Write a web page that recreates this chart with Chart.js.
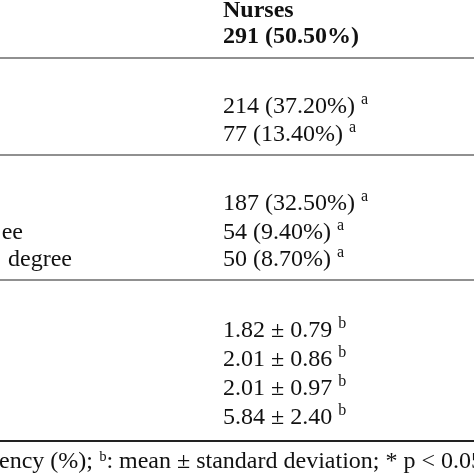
<!DOCTYPE html><html><head><meta charset="utf-8">
<script src="https://cdn.jsdelivr.net/npm/chart.js@4"></script>
<style>html,body{margin:0;padding:0;background:#fff}#w{width:474px;height:474px}</style></head>
<body><div id="w"><canvas id="c"></canvas></div>
<script>
const headerLines = ["Nurses", "291 (50.50%)"];
const headerY = [17, 43];
const values = ["214 (37.20%)", "77 (13.40%)", "187 (32.50%)", "54 (9.40%)", "50 (8.70%)",
  "1.82 \u00B1 0.79", "2.01 \u00B1 0.86", "2.01 \u00B1 0.97", "5.84 \u00B1 2.40"];
const superscripts = ["a","a","a","a","a","b","b","b","b"];
const valueY = [113, 141, 210, 239, 266, 337, 366, 395, 424];
const leftLabels = ["ee", " degree"];
const leftY = [239, 266];
const leftRightEdge = [23, 72];
const ruleY = [58, 155, 280, 441];
const footnote = "ency (%); \u1D47: mean \u00B1 standard deviation; * p < 0.05 is";
const FONT = '"Liberation Serif", serif';

const tablePlugin = {
  id: 'table',
  afterDraw(chart) {
    const {ctx, scales: {x, y}} = chart;
    const px = v => x.getPixelForValue(v), py = v => y.getPixelForValue(v);
    ctx.save();
    ctx.fillStyle = '#111'; ctx.textBaseline = 'alphabetic';
    ctx.font = 'bold 24px ' + FONT; ctx.textAlign = 'left';
    headerLines.forEach((t, i) => ctx.fillText(t, px(223), py(headerY[i])));
    values.forEach((t, i) => {
      ctx.font = '24px ' + FONT; ctx.textAlign = 'left';
      ctx.fillText(t, px(223), py(valueY[i]));
      const w = ctx.measureText(t).width;
      ctx.font = '16px ' + FONT;
      ctx.fillText(superscripts[i], px(223) + w + 6, py(valueY[i] - 9));
    });
    ctx.font = '24px ' + FONT; ctx.textAlign = 'right';
    leftLabels.forEach((t, i) => ctx.fillText(t, px(leftRightEdge[i]), py(leftY[i])));
    ctx.textAlign = 'left';
    ctx.fillText(footnote, px(-1), py(468));
    ctx.strokeStyle = '#222';
    ruleY.forEach((v, i) => {
      ctx.lineWidth = i === ruleY.length - 1 ? 2 : 1.2;
      ctx.beginPath(); ctx.moveTo(px(0), py(v)); ctx.lineTo(px(474), py(v)); ctx.stroke();
    });
    ctx.restore();
  }
};

new Chart(document.getElementById('c'), {
  type: 'scatter',
  data: { datasets: [{ data: [], pointRadius: 0 }] },
  options: {
    responsive: true, maintainAspectRatio: false, animation: false,
    layout: { padding: 0 },
    plugins: { legend: { display: false }, tooltip: { enabled: false } },
    scales: {
      x: { type: 'linear', min: 0, max: 474, display: false },
      y: { type: 'linear', min: 0, max: 474, reverse: true, display: false }
    }
  },
  plugins: [tablePlugin]
});
</script></body></html>
